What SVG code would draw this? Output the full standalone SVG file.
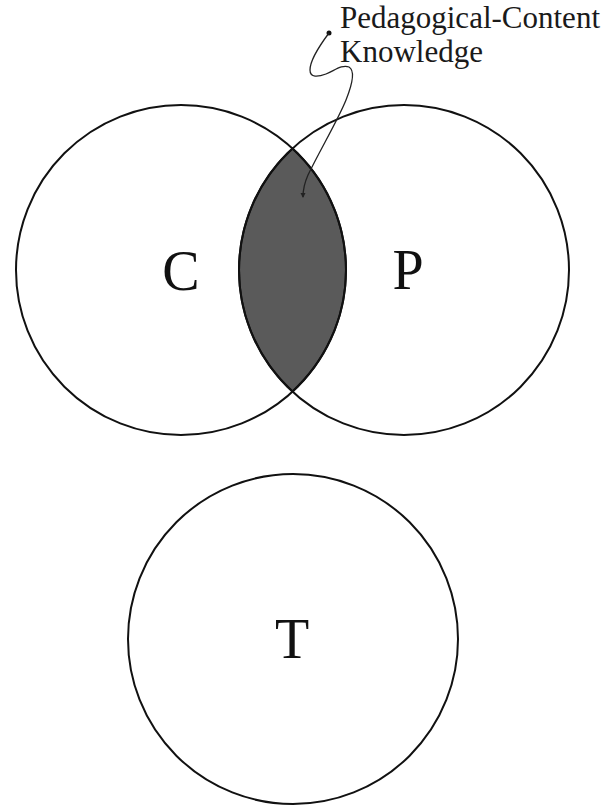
<svg xmlns="http://www.w3.org/2000/svg" width="604" height="811" viewBox="0 0 604 811">
<style>
.circ{fill:none;stroke:#111;stroke-width:2}
.big{font-family:"Liberation Serif","Times New Roman",serif;font-size:56px;fill:#111;text-anchor:middle}
.lbl{font-family:"Liberation Serif","Times New Roman",serif;font-size:31px;fill:#1a1a1a}
</style>
<defs>
<marker id="ah" viewBox="0 0 10 10" refX="8" refY="5" markerWidth="4" markerHeight="4" orient="auto">
<path d="M0,0 L10,5 L0,10 Z" fill="#222"/>
</marker>
</defs>
<rect width="604" height="811" fill="#fff"/>
<g id="lens">
<path d="M292.5,148.4 A165,165 0 0 1 292.5,391.6 A165,165 0 0 1 292.5,148.4 Z" fill="#5a5a5a" stroke="#111" stroke-width="2"/>
</g>
<g id="C">
<circle class="circ" cx="181" cy="270" r="165"/>
<text class="big" x="181" y="290">C</text>
</g>
<g id="P">
<circle class="circ" cx="404" cy="270" r="165"/>
<text class="big" x="408" y="289">P</text>
</g>
<g id="T">
<circle class="circ" cx="293" cy="639" r="165"/>
<text class="big" x="292" y="658">T</text>
</g>
<g id="label">
<text class="lbl" x="340" y="28">Pedagogical-Content</text>
<text class="lbl" x="340" y="62">Knowledge</text>
</g>
<g id="connectors">
<circle cx="329" cy="33" r="2.5" fill="#111"/>
<path d="M329,33 C320,45 310,60 310,70 C310,78 318,77 326,74 C334,71 342,64 349,67 C356,71 352,85 346,100 C338,120 320,150 308,175 C304,184 303,191 303,197" fill="none" stroke="#222" stroke-width="1.3" marker-end="url(#ah)"/>
</g>
</svg>
